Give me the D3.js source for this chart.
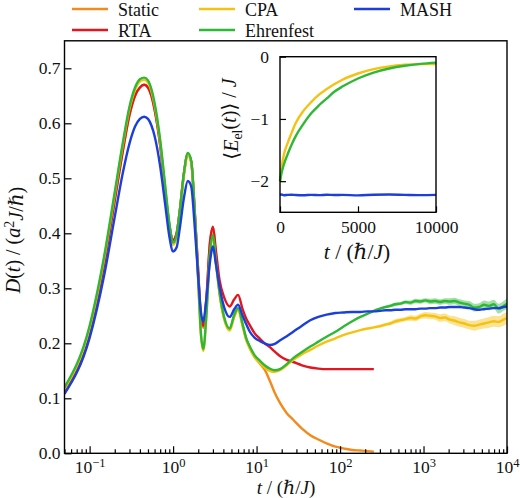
<!DOCTYPE html>
<html>
<head>
<meta charset="utf-8">
<script src="https://cdn.jsdelivr.net/npm/d3@7"></script>
<style>
  body { margin: 0; background: #fff; }
  svg { display: block; }
  svg, svg text { font-family: "Liberation Serif", "DejaVu Serif", serif; fill: #111; }
</style>
</head>
<body>
<svg id="chart" width="520" height="498" font-family="Liberation Serif, DejaVu Serif, serif"></svg>
<script>
// ---- data ----
// shared time grid (hbar/J) for the short/intermediate times
var tGrid = [0.05, 0.1, 0.15, 0.2, 0.25, 0.3, 0.35, 0.4, 0.45, 0.5, 0.55, 0.6, 0.7, 0.8, 0.9, 1.0, 1.1, 1.2, 1.35, 1.5,
  1.65, 1.8, 2.0, 2.15, 2.3, 2.5, 2.75, 3.0, 3.25, 3.6, 4.1, 4.76, 5.4, 6.0, 6.8, 7.5, 8.3, 9.5, 11, 12.5,
  14.4, 16.5, 19, 23, 27.5, 35, 44, 55, 69, 88, 109, 140, 175, 215, 254];

var staticD = [0.115, 0.22, 0.345, 0.46, 0.55, 0.615, 0.65, 0.665, 0.67, 0.665, 0.65, 0.625, 0.56, 0.48, 0.415, 0.388, 0.40, 0.44, 0.51, 0.544,
  0.53, 0.45, 0.33, 0.25, 0.228, 0.276, 0.378, 0.41, 0.36, 0.292, 0.245, 0.226, 0.25, 0.263, 0.233, 0.208, 0.192, 0.175, 0.163, 0.152,
  0.132, 0.11, 0.092, 0.073, 0.061, 0.045, 0.033, 0.025, 0.018, 0.012, 0.009, 0.006, 0.005, 0.004, 0.003];

var rtaD = [0.115, 0.22, 0.345, 0.46, 0.55, 0.615, 0.65, 0.665, 0.67, 0.665, 0.65, 0.625, 0.56, 0.48, 0.415, 0.388, 0.40, 0.44, 0.51, 0.544,
  0.53, 0.45, 0.33, 0.25, 0.232, 0.28, 0.38, 0.412, 0.37, 0.315, 0.283, 0.267, 0.28, 0.288, 0.262, 0.245, 0.233, 0.218, 0.208, 0.2,
  0.193, 0.185, 0.177, 0.17, 0.166, 0.16, 0.156, 0.154, 0.153, 0.153, 0.153, 0.153, 0.153, 0.153, 0.153];

var cpaD = [0.117, 0.228, 0.356, 0.471, 0.561, 0.626, 0.661, 0.676, 0.679, 0.674, 0.658, 0.633, 0.566, 0.486, 0.416, 0.379, 0.393, 0.436, 0.506, 0.542,
  0.528, 0.446, 0.311, 0.216, 0.186, 0.246, 0.356, 0.393, 0.346, 0.289, 0.243, 0.223, 0.248, 0.26, 0.231, 0.206, 0.19, 0.174, 0.164, 0.156,
  0.15, 0.148, 0.151, 0.16, 0.17, 0.18, 0.188, 0.196, 0.203, 0.209, 0.215, 0.22, 0.224, 0.227, 0.229];

var ehrD = [0.12, 0.232, 0.36, 0.475, 0.565, 0.63, 0.665, 0.68, 0.683, 0.678, 0.662, 0.637, 0.57, 0.49, 0.42, 0.383, 0.397, 0.44, 0.51, 0.546,
  0.532, 0.45, 0.315, 0.22, 0.19, 0.25, 0.36, 0.397, 0.35, 0.293, 0.247, 0.227, 0.252, 0.264, 0.235, 0.21, 0.194, 0.178, 0.168, 0.16,
  0.154, 0.151, 0.153, 0.162, 0.173, 0.184, 0.194, 0.203, 0.212, 0.221, 0.23, 0.24, 0.248, 0.254, 0.259];

var mashD = [0.108, 0.21, 0.325, 0.43, 0.51, 0.563, 0.594, 0.608, 0.612, 0.608, 0.596, 0.577, 0.522, 0.455, 0.395, 0.367, 0.374, 0.408, 0.465, 0.495,
  0.485, 0.42, 0.32, 0.258, 0.24, 0.28, 0.345, 0.376, 0.345, 0.303, 0.265, 0.248, 0.262, 0.27, 0.25, 0.235, 0.221, 0.21, 0.204, 0.2,
  0.197, 0.199, 0.205, 0.213, 0.221, 0.232, 0.242, 0.248, 0.252, 0.255, 0.256, 0.257, 0.257, 0.258, 0.258];

// long-time grid (only CPA, Ehrenfest and MASH run this far)
var tLong = [300, 350, 400, 460, 530, 610, 700, 800, 920, 1050, 1200, 1380, 1580, 1800, 2060, 2360, 2700, 3090, 3540, 4050,
  4630, 5300, 6070, 6950, 7950, 9100, 10000];
var cpaLate = [0.231, 0.234, 0.236, 0.24, 0.242, 0.244, 0.246, 0.245, 0.249, 0.251, 0.25, 0.249, 0.246, 0.247, 0.243, 0.241, 0.238, 0.236, 0.233, 0.232,
  0.234, 0.236, 0.238, 0.24, 0.239, 0.243, 0.246];
var cpaErr = [0.003, 0.003, 0.003, 0.004, 0.004, 0.004, 0.005, 0.005, 0.005, 0.006, 0.006, 0.006, 0.007, 0.007, 0.007, 0.008, 0.008, 0.008, 0.008, 0.009,
  0.009, 0.009, 0.01, 0.01, 0.01, 0.011, 0.011];
var ehrLate = [0.263, 0.266, 0.268, 0.271, 0.272, 0.275, 0.274, 0.277, 0.276, 0.278, 0.276, 0.277, 0.275, 0.277, 0.276, 0.277, 0.274, 0.272, 0.27, 0.265,
  0.266, 0.27, 0.268, 0.271, 0.263, 0.268, 0.272];
var ehrErr = [0.002, 0.002, 0.003, 0.003, 0.003, 0.003, 0.004, 0.004, 0.004, 0.004, 0.005, 0.005, 0.005, 0.005, 0.006, 0.006, 0.006, 0.006, 0.007, 0.007,
  0.007, 0.008, 0.008, 0.008, 0.009, 0.009, 0.01];
var mashLate = [0.259, 0.26, 0.26, 0.261, 0.261, 0.262, 0.262, 0.262, 0.263, 0.263, 0.264, 0.264, 0.265, 0.265, 0.266, 0.266, 0.266, 0.265, 0.264, 0.262,
  0.261, 0.262, 0.263, 0.264, 0.264, 0.266, 0.267];

// inset: electronic energy vs linear time
var insetT = [0, 100, 250, 500, 750, 1000, 1500, 2000, 2500, 3000, 3500, 4000, 5000, 6000, 7000, 8000, 9000, 10000];
var cpaE = [-2.0, -1.78, -1.57, -1.38, -1.22, -1.07, -0.87, -0.73, -0.61, -0.52, -0.44, -0.37, -0.27, -0.2, -0.155, -0.13, -0.12, -0.12];
var ehrE = [-2.0, -1.87, -1.73, -1.56, -1.41, -1.28, -1.08, -0.91, -0.78, -0.67, -0.56, -0.48, -0.35, -0.255, -0.19, -0.145, -0.115, -0.095];
var mashE = [-2.22, -2.215, -2.225, -2.22, -2.218, -2.222, -2.226, -2.22, -2.224, -2.218, -2.222, -2.22, -2.228, -2.218, -2.215, -2.22, -2.224, -2.22];

var seriesNames = ["Static", "RTA", "CPA", "Ehrenfest", "MASH"];
var seriesColors = ["#f28a1c", "#e3161f", "#f5c211", "#2fb836", "#1c3fdc"];

var yTicks = [0, 0.1, 0.2, 0.3, 0.4, 0.5, 0.6, 0.7];
var xTicks = [0.1, 1, 10, 100, 1000, 10000];
var insetXTicks = [0, 5000, 10000];
var insetYTicks = [0, -1, -2];

// ---- layout ----
var LEFT = 64.5, RIGHT = 507, TOP = 40.8, BOTTOM = 453.3;
var IN_L = 280, IN_R = 436, IN_T = 56.7, IN_B = 212.3;
var LW = 2.4;
var SERIF = "Liberation Serif, DejaVu Serif, serif";

var svg = d3.select("#chart");

var zip = (a, b) => a.map((d, i) => [d, b[i]]);

var x = d3.scaleLog().domain([0.05, 1e4]).range([LEFT, RIGHT]);
var y = d3.scaleLinear().domain([0, 0.75]).range([BOTTOM, TOP]);

svg.append("clipPath").attr("id", "mainClip")
  .append("rect").attr("x", LEFT).attr("y", TOP).attr("width", RIGHT - LEFT).attr("height", BOTTOM - TOP);

var line = d3.line().x(d => x(d[0])).y(d => y(d[1])).curve(d3.curveMonotoneX);
var band = d3.area().x(d => x(d[0])).y0(d => y(d[1] - d[2])).y1(d => y(d[1] + d[2])).curve(d3.curveMonotoneX);

var mainSeries = [
  zip(tGrid, staticD),
  zip(tGrid, rtaD),
  zip(tGrid.concat(tLong), cpaD.concat(cpaLate)),
  zip(tGrid.concat(tLong), ehrD.concat(ehrLate)),
  zip(tGrid.concat(tLong), mashD.concat(mashLate))
];
var bands = [
  { c: 2, pts: tLong.map((t, i) => [t, cpaLate[i], cpaErr[i]]) },
  { c: 3, pts: tLong.map((t, i) => [t, ehrLate[i], ehrErr[i]]) }
];

var plot = svg.append("g").attr("clip-path", "url(#mainClip)");

plot.selectAll("path.band")
  .data(bands)
  .enter().append("path")
  .attr("class", "band")
  .attr("d", d => band(d.pts))
  .attr("fill", d => seriesColors[d.c])
  .attr("opacity", 0.45);

plot.selectAll("path.series")
  .data(mainSeries)
  .enter().append("path")
  .attr("class", "series")
  .attr("d", line)
  .attr("fill", "none")
  .attr("stroke", (d, i) => seriesColors[i])
  .attr("stroke-width", LW)
  .attr("stroke-linejoin", "round");

// minor ticks on the log axis
var minor = [];
for (var k = -2; k <= 3; k++) {
  for (var m = 2; m <= 9; m++) {
    var v = m * Math.pow(10, k);
    if (v >= 0.05 && v <= 1e4) minor.push(v);
  }
}

var xAxisMinor = svg.append("g").attr("transform", "translate(0," + BOTTOM + ")")
  .call(d3.axisBottom(x).tickValues(minor).tickSize(-4).tickFormat(() => ""));
var xAxis = svg.append("g").attr("transform", "translate(0," + BOTTOM + ")")
  .call(d3.axisBottom(x).tickValues(xTicks).tickSize(-7).tickPadding(7));
var yAxis = svg.append("g").attr("transform", "translate(" + LEFT + ",0)")
  .call(d3.axisLeft(y).tickValues(yTicks).tickSize(-7).tickPadding(4).tickFormat(d3.format(".1f")));

function styleAxis(g) {
  g.attr("font-family", SERIF).attr("font-size", 17.5);
  g.select(".domain").remove();
  g.selectAll(".tick line").attr("stroke", "#000").attr("stroke-width", 1.2);
  g.selectAll("text").attr("fill", "#111");
}
[xAxisMinor, xAxis, yAxis].forEach(styleAxis);

// powers of ten as superscripts
xAxis.selectAll(".tick text").each(function (d) {
  var e = Math.round(Math.log10(d));
  var t = d3.select(this).text("");
  t.append("tspan").text("10");
  t.append("tspan").attr("dy", "-0.42em").attr("font-size", "12.5px").text(String(e).replace("-", "\u2212"));
});

svg.append("rect")
  .attr("x", LEFT).attr("y", TOP).attr("width", RIGHT - LEFT).attr("height", BOTTOM - TOP)
  .attr("fill", "none").attr("stroke", "#000").attr("stroke-width", 1.4);

// axis labels
var xl = svg.append("text").attr("x", 286).attr("y", 493.5).attr("text-anchor", "middle").attr("font-size", "19px");
xl.append("tspan").attr("font-style", "italic").text("t");
xl.append("tspan").text(" / (\u210F/");
xl.append("tspan").attr("font-style", "italic").text("J");
xl.append("tspan").text(")");

var yl = svg.append("text").attr("transform", "translate(20,240) rotate(-90)").attr("text-anchor", "middle").attr("font-size", "20px");
yl.append("tspan").attr("font-style", "italic").text("D");
yl.append("tspan").text("(");
yl.append("tspan").attr("font-style", "italic").text("t");
yl.append("tspan").text(") / (");
yl.append("tspan").attr("font-style", "italic").text("a");
yl.append("tspan").attr("dy", "-0.45em").attr("font-size", "14px").text("2");
yl.append("tspan").attr("dy", "0.45em").attr("font-style", "italic").text("J");
yl.append("tspan").text("/\u210F)");

// ---- inset ----
var xi = d3.scaleLinear().domain([0, 10000]).range([IN_L, IN_R]);
var yi = d3.scaleLinear().domain([-2.5, 0]).range([IN_B, IN_T]);

svg.append("rect").attr("x", IN_L).attr("y", IN_T).attr("width", IN_R - IN_L).attr("height", IN_B - IN_T).attr("fill", "#fff");

var insetLine = d3.line().x(d => xi(d[0])).y(d => yi(d[1])).curve(d3.curveMonotoneX);
var insetSeries = [
  { c: 2, pts: zip(insetT, cpaE) },
  { c: 3, pts: zip(insetT, ehrE) },
  { c: 4, pts: zip(insetT, mashE) }
];
svg.append("g").selectAll("path")
  .data(insetSeries)
  .enter().append("path")
  .attr("d", d => insetLine(d.pts))
  .attr("fill", "none")
  .attr("stroke", d => seriesColors[d.c])
  .attr("stroke-width", LW);

var xiAxis = svg.append("g").attr("transform", "translate(0," + IN_B + ")")
  .call(d3.axisBottom(xi).tickValues(insetXTicks).tickSize(-6).tickPadding(8.5).tickFormat(d3.format("d")));
var yiAxis = svg.append("g").attr("transform", "translate(" + IN_L + ",0)")
  .call(d3.axisLeft(yi).tickValues(insetYTicks).tickSize(-6).tickPadding(11).tickFormat(d => d < 0 ? "\u2212" + (-d) : d));
[xiAxis, yiAxis].forEach(styleAxis);

svg.append("rect")
  .attr("x", IN_L).attr("y", IN_T).attr("width", IN_R - IN_L).attr("height", IN_B - IN_T)
  .attr("fill", "none").attr("stroke", "#000").attr("stroke-width", 1.4);

var ixl = svg.append("text").attr("x", 357).attr("y", 259).attr("text-anchor", "middle").attr("font-size", "21.5px");
ixl.append("tspan").attr("font-style", "italic").text("t");
ixl.append("tspan").text(" / (\u210F/");
ixl.append("tspan").attr("font-style", "italic").text("J");
ixl.append("tspan").text(")");

var iyl = svg.append("text").attr("transform", "translate(238,119) rotate(-90)").attr("text-anchor", "middle").attr("font-size", "20px");
iyl.append("tspan").text("\u27E8");
iyl.append("tspan").attr("font-style", "italic").text("E");
iyl.append("tspan").attr("dy", "0.3em").attr("font-size", "14px").text("el");
iyl.append("tspan").attr("dy", "-0.3em").text("(");
iyl.append("tspan").attr("font-style", "italic").text("t");
iyl.append("tspan").text(")\u27E9 / ");
iyl.append("tspan").attr("font-style", "italic").text("J");

// ---- legend ----
var legendPos = [[72, 9], [72, 30], [199, 9], [199, 30], [354, 9]];
var legend = svg.append("g").selectAll("g")
  .data(seriesNames)
  .enter().append("g")
  .attr("transform", (d, i) => "translate(" + legendPos[i][0] + "," + legendPos[i][1] + ")");
legend.append("line")
  .attr("x1", 0).attr("x2", 36).attr("y1", 0).attr("y2", 0)
  .attr("stroke", (d, i) => seriesColors[i]).attr("stroke-width", LW);
legend.append("text")
  .attr("x", 46).attr("y", 7.2).attr("font-size", "18px")
  .text(d => d);
</script>
</body>
</html>
